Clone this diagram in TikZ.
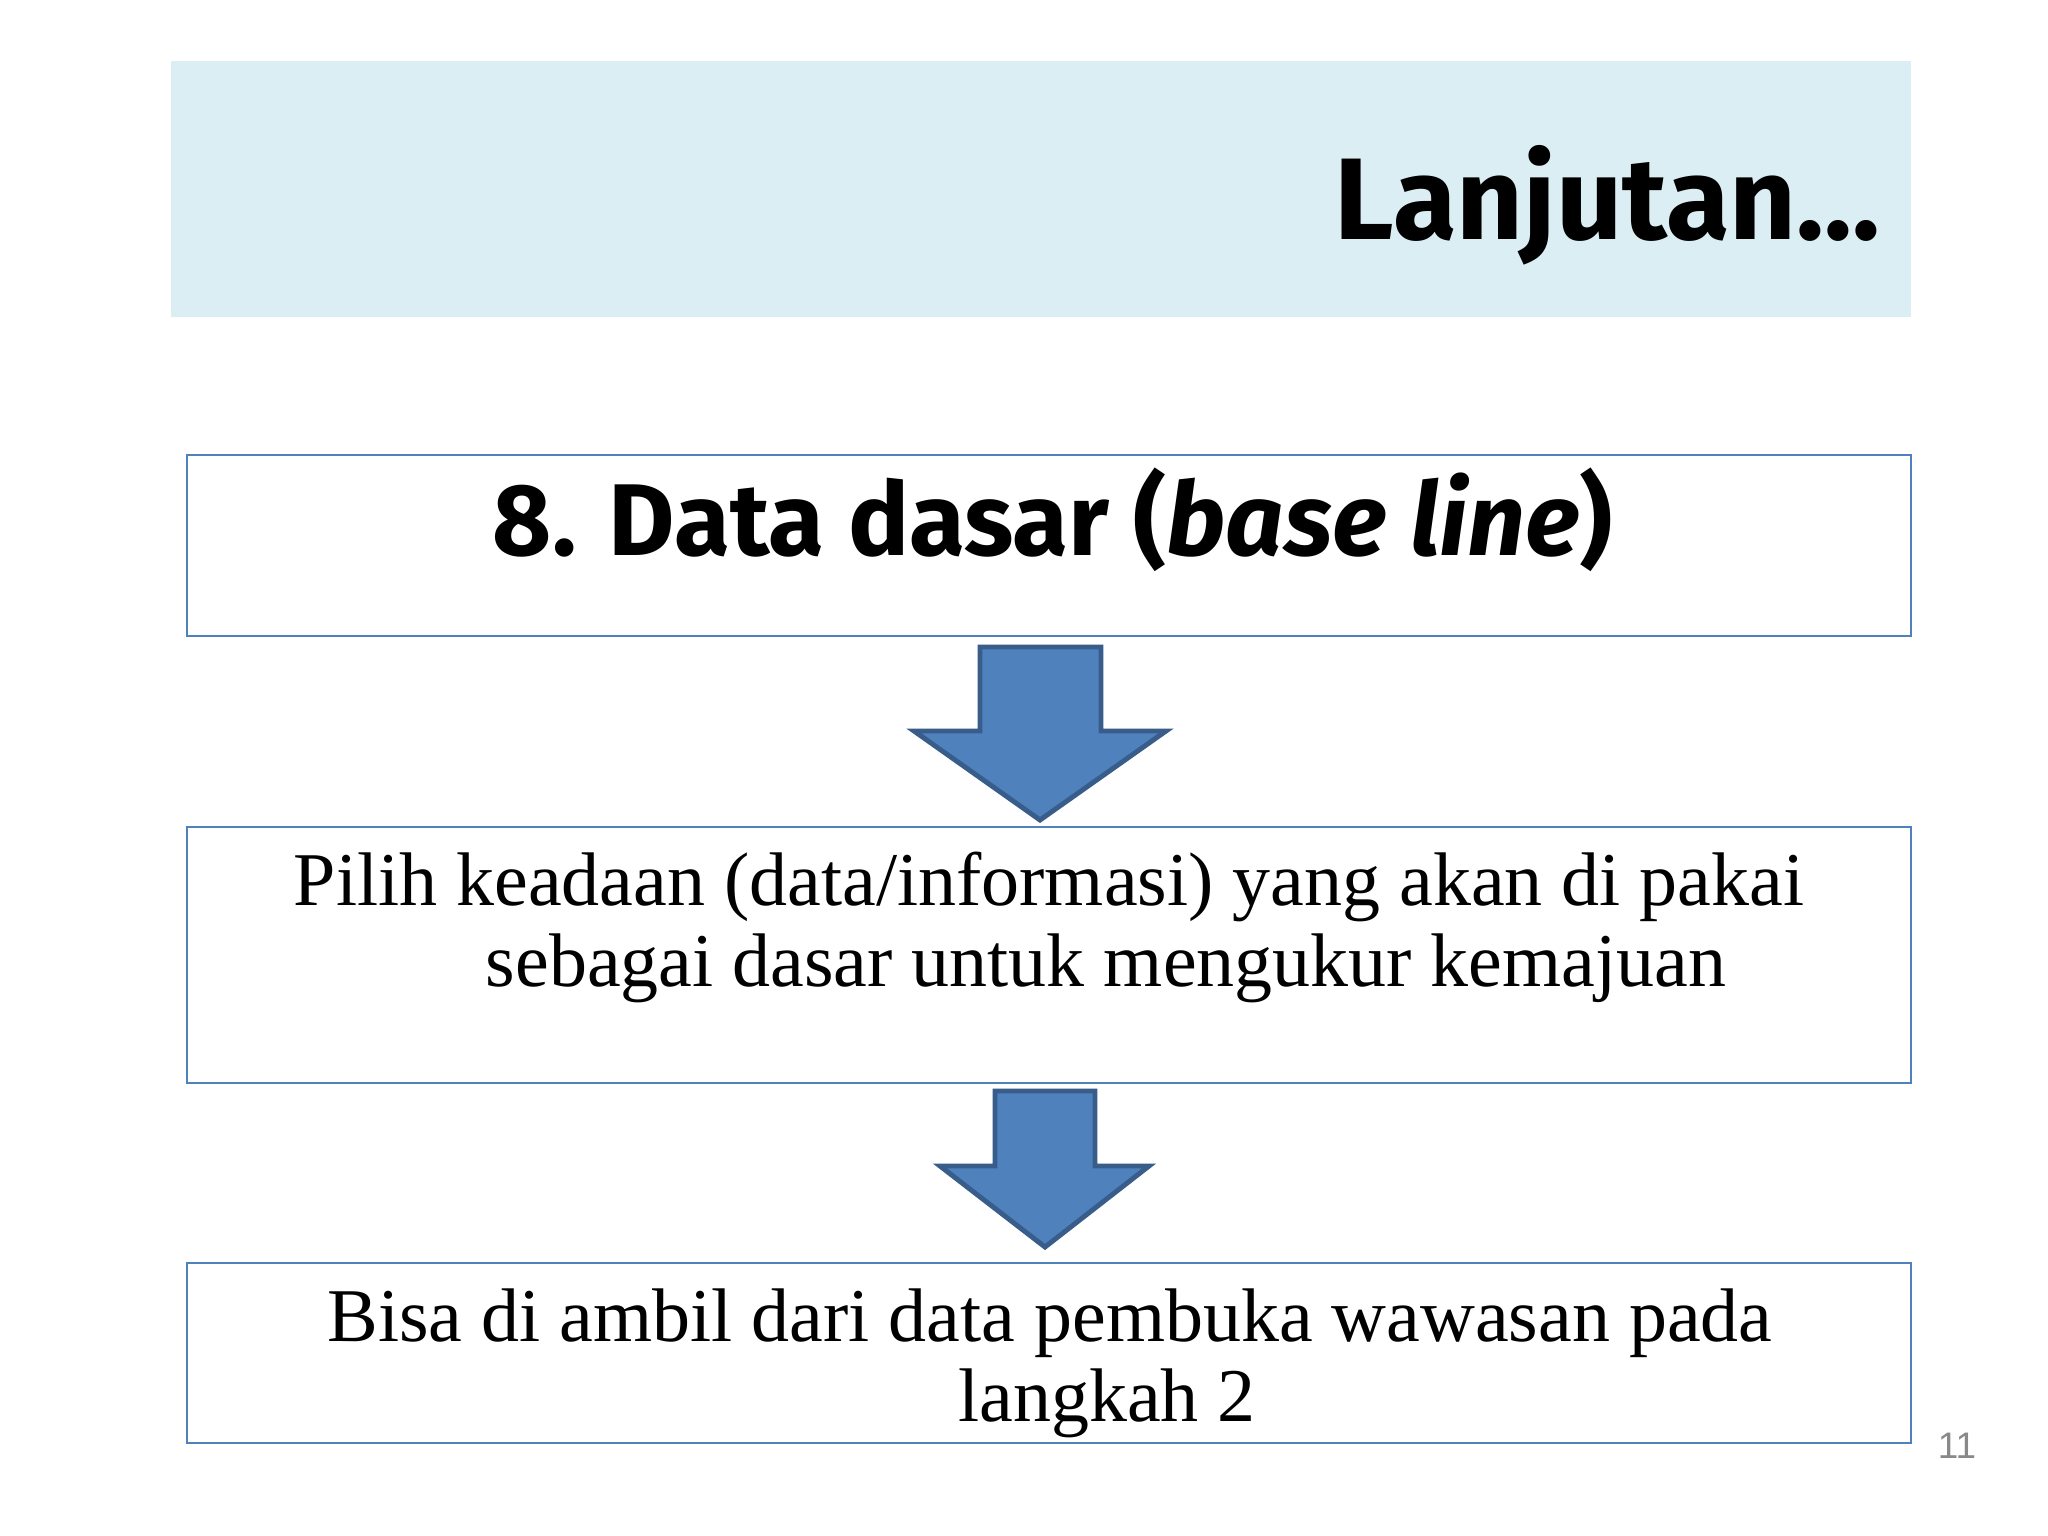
\documentclass[tikz,border=0pt]{standalone}
\usepackage{fontspec}
\setmainfont{Liberation Serif}
\newfontfamily\headfont{Fira Sans}
\newfontfamily\numfont{Liberation Sans}
\definecolor{headblue}{HTML}{DBEEF3}
\definecolor{boxline}{HTML}{4F81BD}
\definecolor{arrowfill}{HTML}{4F81BD}
\definecolor{arrowline}{HTML}{385D8A}
\definecolor{pagegray}{HTML}{898989}
\begin{document}
\begin{tikzpicture}[x=0.01cm, y=-0.01cm,
    stepbox/.style={draw=boxline, line width=0.6pt},
    blockarrow/.style={fill=arrowfill, draw=arrowline, line width=1.4pt, line join=miter},
    bodytext/.style={inner sep=0pt, font=\fontsize{21.6}{25}\selectfont}]
    \useasboundingbox (0,0) rectangle (2048,1536);
    \fill[white] (0,0) rectangle (2048,1536);
    % title bar
    \fill[headblue] (171,61) rectangle (1911,317);
    \node [anchor=base east, inner sep=0pt, font=\headfont\bfseries\fontsize{33}{40}\selectfont] (title) at (1881,239) {Lanjutan...};
    % boxes
    \draw [stepbox] (187,455) rectangle (1911,636);
    \node [anchor=base, inner sep=0pt, font=\headfont\bfseries\fontsize{29}{34}\selectfont] (step) at (1053,555) {8. Data dasar (\textit{base line})};
    \draw [stepbox] (187,827) rectangle (1911,1083);
    \node [bodytext, anchor=base] (pilih) at (1049,905) {Pilih keadaan (data/informasi) yang akan di pakai};
    \node [bodytext, anchor=base] (sebagai) at (1106,986) {sebagai dasar untuk mengukur kemajuan};
    \draw [stepbox] (187,1263) rectangle (1911,1443);
    \node [bodytext, anchor=base] (bisa) at (1050,1341) {Bisa di ambil dari data pembuka wawasan pada};
    \node [bodytext, anchor=base] (langkah) at (1107,1421) {langkah 2};
    % arrows
    \draw [blockarrow] (980,647) -- (1101,647) -- (1101,731) -- (1166,731) -- (1040,820) -- (914,731) -- (980,731) -- cycle;
    \draw [blockarrow] (995,1091) -- (1095,1091) -- (1095,1166) -- (1149,1166) -- (1045,1247) -- (940,1166) -- (995,1166) -- cycle;
    \node [font=\numfont\fontsize{10.5}{12}\selectfont, text=pagegray] (pagenum) at (1957,1446) {11};
\end{tikzpicture}
\end{document}
